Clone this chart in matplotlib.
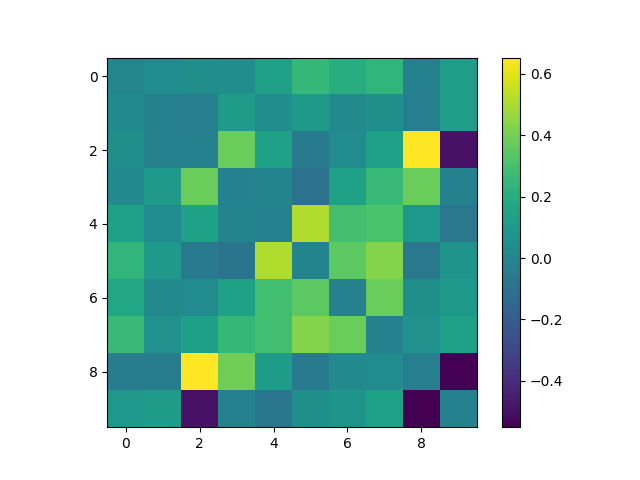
import numpy as np
import matplotlib
matplotlib.use('Agg')
import matplotlib.pyplot as plt

# cell values
row0 = [0.00, 0.03, 0.05, 0.04, 0.14, 0.25, 0.20, 0.24, -0.02, 0.12]
row1 = [0.02, -0.02, -0.03, 0.11, 0.04, 0.10, 0.02, 0.05, -0.03, 0.12]
row2 = [0.05, -0.02, -0.02, 0.38, 0.14, -0.05, 0.03, 0.14, 0.653, -0.49]
row3 = [0.02, 0.10, 0.38, -0.02, -0.01, -0.10, 0.14, 0.26, 0.38, -0.02]
row4 = [0.14, 0.03, 0.14, -0.01, -0.02, 0.51, 0.30, 0.31, 0.09, -0.07]
row5 = [0.24, 0.10, -0.06, -0.09, 0.51, -0.01, 0.35, 0.43, -0.07, 0.07]
row6 = [0.17, 0.02, 0.03, 0.14, 0.29, 0.35, -0.02, 0.38, 0.05, 0.10]
row7 = [0.26, 0.06, 0.13, 0.25, 0.29, 0.43, 0.38, -0.02, 0.06, 0.14]
row8 = [-0.04, -0.04, 0.65, 0.39, 0.11, -0.06, 0.02, 0.03, -0.03, -0.551]
row9 = [0.09, 0.11, -0.49, -0.02, -0.08, 0.05, 0.07, 0.14, -0.55, -0.02]

data = np.array([row0, row1, row2, row3, row4, row5, row6, row7, row8, row9])

fig, ax = plt.subplots(figsize=(6.4, 4.8), dpi=100)
im = ax.imshow(data, cmap='viridis')
fig.colorbar(im, ax=ax)
plt.savefig('out.png')
